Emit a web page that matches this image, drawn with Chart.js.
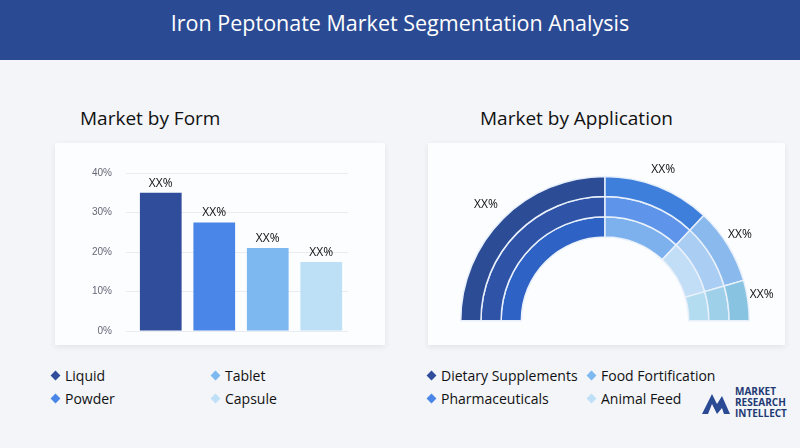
<!DOCTYPE html>
<html><head><meta charset="utf-8">
<script src="https://cdn.jsdelivr.net/npm/chart.js@4.4.0/dist/chart.umd.min.js"></script>
<style>
body{margin:0;width:800px;height:448px;background:#f3f5f9;font-family:"Open Sans",sans-serif;position:relative;overflow:hidden}
#hdr{position:absolute;left:0;top:0;width:800px;height:60px;background:#2b4a94;color:#fff;font-size:21.5px;text-align:center;line-height:46px}
.card{position:absolute;background:#fcfdff;box-shadow:0 2px 6px rgba(0,0,0,0.08)}
.ttl{position:absolute;font-size:19px;color:#111}
.leg{position:absolute;font-size:14px;color:#111}
.leg span{display:inline-block;width:7px;height:7px;transform:rotate(45deg);margin-right:6px;vertical-align:2px}
#logo{position:absolute;left:735px;top:386px;font-size:10px;font-weight:bold;color:#1f3a73;line-height:11px}
</style></head><body>
<div id="hdr">Iron Peptonate Market Segmentation Analysis</div>
<div class="ttl" style="left:80px;top:105px">Market by Form</div>
<div class="ttl" style="left:480px;top:105px">Market by Application</div>
<div class="card" style="left:55px;top:143px;width:330px;height:202px"></div>
<div class="card" style="left:428px;top:143px;width:357px;height:202px"></div>
<div style="position:absolute;left:60px;top:150px;width:310px;height:201px"><canvas id="bar"></canvas></div>
<div style="position:absolute;left:420px;top:135px;width:370px;height:187px"><canvas id="pie"></canvas></div>
<div class="leg" style="left:52px;top:366px"><span style="background:#2f4d9a"></span>Liquid</div>
<div class="leg" style="left:212px;top:366px"><span style="background:#7db8f0"></span>Tablet</div>
<div class="leg" style="left:52px;top:389px"><span style="background:#4a86e8"></span>Powder</div>
<div class="leg" style="left:212px;top:389px"><span style="background:#bde0f7"></span>Capsule</div>
<div class="leg" style="left:428px;top:366px"><span style="background:#2f4d9a"></span>Dietary Supplements</div>
<div class="leg" style="left:588px;top:366px"><span style="background:#7db8f0"></span>Food Fortification</div>
<div class="leg" style="left:428px;top:389px"><span style="background:#4a86e8"></span>Pharmaceuticals</div>
<div class="leg" style="left:588px;top:389px"><span style="background:#bde0f7"></span>Animal Feed</div>
<div id="logo">MARKET<br>RESEARCH<br>INTELLECT</div>
<svg style="position:absolute;left:700px;top:388px" width="32" height="28"><path d="M2 26 L12 6 L17 16 L22 8 L30 26 L24 26 L22 20 L17 26 L12 16 L8 26Z" fill="#2b4a94"/></svg>
<script>
const formCats=["Liquid","Powder","Tablet","Capsule"];
const formVals=[35,27.5,21,17.5];
const formColors=["#2f4d9a","#4a86e8","#7db8f0","#bde0f7"];
const yTicks=[0,10,20,30,40];
const appCats=["Dietary Supplements","Pharmaceuticals","Food Fortification","Animal Feed"];
const appVals=[50,24,17,9];
const ringColors=[["#2c4d96","#3f7fdc","#8ab9ee","#88c4e2"],["#2f53a6","#5e95ea","#a9cdf3","#9fd0ea"],["#2e62c4","#7cb1ee","#c2def7","#b4dcf0"]];
const lbl={id:"lbl",afterDatasetsDraw(c){const x=c.ctx;x.save();x.font="12px 'Open Sans'";x.fillStyle="#111";x.textAlign="center";
 if(c.config.type==="bar"){c.getDatasetMeta(0).data.forEach(b=>x.fillText("XX%",b.x,b.y-6));}
 else{const m=c.getDatasetMeta(0);m.data.forEach((a,i)=>{const ang=(a.startAngle+a.endAngle)/2;const r=a.outerRadius+14;let px=a.x+Math.cos(ang)*r,py=a.y+Math.sin(ang)*r;if(i==0){px=a.x-119;py=a.y-113;}x.fillText("XX%",px,py);});}
 x.restore();}};
new Chart(document.getElementById("bar"),{type:"bar",data:{labels:formCats,datasets:[{data:formVals,backgroundColor:formColors,barPercentage:0.78,categoryPercentage:1}]},
options:{responsive:true,maintainAspectRatio:false,animation:false,layout:{padding:{left:18,right:22,top:23,bottom:0}},plugins:{legend:{display:false},tooltip:{enabled:false}},
scales:{x:{ticks:{display:false},grid:{display:false},border:{display:false}},y:{min:0,max:40,afterBuildTicks(a){a.ticks=yTicks.map(v=>({value:v}));},ticks:{callback:v=>v+"%",color:"#667",font:{size:10},padding:14},grid:{color:"#e9edf3"},border:{display:false}}}},plugins:[lbl]});
new Chart(document.getElementById("pie"),{type:"doughnut",data:{labels:appCats,datasets:ringColors.map(cl=>({data:appVals,backgroundColor:cl,borderColor:"#e8f0fb",borderWidth:1.5}))},
options:{responsive:true,maintainAspectRatio:false,animation:false,rotation:-90,circumference:180,cutout:"58%",layout:{padding:{left:40,right:40,top:40,bottom:0}},plugins:{legend:{display:false},tooltip:{enabled:false}}},plugins:[lbl]});
</script></body></html>
